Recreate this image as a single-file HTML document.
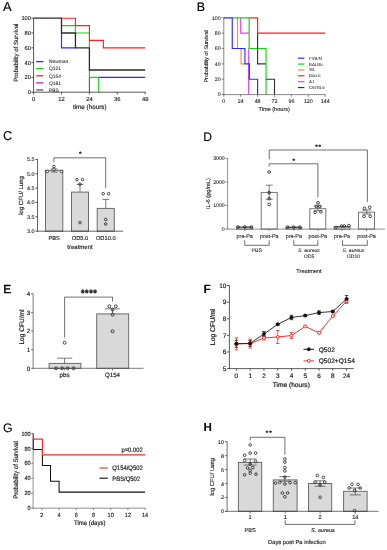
<!DOCTYPE html>
<html><head><meta charset="utf-8"><title>Figure</title>
<style>
html,body{margin:0;padding:0;background:#fff;}
svg{display:block;}
text{font-family:"Liberation Sans", Arial, sans-serif;text-rendering:geometricPrecision;}
</style></head>
<body>
<svg width="387" height="550" viewBox="0 0 387 550">
<rect x="0" y="0" width="387" height="550" fill="#fff"/>
<text x="3.00" y="11.10" font-size="12.9" text-anchor="start" fill="#000"  stroke="#000" stroke-width="0.150">A</text>
<polyline points="61.50,33.00 61.50,47.80 75.45,47.80" fill="none" stroke="#2a2aff" stroke-width="1.15" stroke-linejoin="miter" />
<polyline points="98.70,77.40 145.20,77.40" fill="none" stroke="#2a2aff" stroke-width="1.15" stroke-linejoin="miter" />
<polyline points="61.50,25.60 75.45,25.60 75.45,33.00 89.40,33.00" fill="none" stroke="#18d018" stroke-width="1.15" stroke-linejoin="miter" />
<polyline points="89.40,40.40 89.40,47.80" fill="none" stroke="#18d018" stroke-width="1.15" stroke-linejoin="miter" />
<polyline points="89.40,70.00 89.40,77.40 98.70,77.40 98.70,92.20" fill="none" stroke="#18d018" stroke-width="1.15" stroke-linejoin="miter" />
<polyline points="61.50,18.20 75.45,18.20 75.45,25.60 89.40,25.60 89.40,40.40 103.35,40.40 103.35,47.80 145.20,47.80" fill="none" stroke="#ff2020" stroke-width="1.15" stroke-linejoin="miter" />
<polyline points="89.40,77.40 89.40,92.20" fill="none" stroke="#c020c0" stroke-width="1.15" stroke-linejoin="miter" />
<polyline points="33.60,18.20 61.50,18.20 61.50,33.00 75.45,33.00 75.45,47.80 89.40,47.80 89.40,70.00 145.20,70.00" fill="none" stroke="#2b2b2b" stroke-width="1.3" stroke-linejoin="miter" />
<line x1="33.60" y1="17.75" x2="33.60" y2="92.65" stroke="#444" stroke-width="0.9" />
<line x1="31.40" y1="92.20" x2="33.60" y2="92.20" stroke="#444" stroke-width="0.9" />
<text x="30.90" y="94.25" font-size="5.7" text-anchor="end" fill="#1a1a1a"  stroke="#1a1a1a" stroke-width="0.120">0</text>
<line x1="31.40" y1="77.40" x2="33.60" y2="77.40" stroke="#444" stroke-width="0.9" />
<text x="30.90" y="79.45" font-size="5.7" text-anchor="end" fill="#1a1a1a"  stroke="#1a1a1a" stroke-width="0.120">20</text>
<line x1="31.40" y1="62.60" x2="33.60" y2="62.60" stroke="#444" stroke-width="0.9" />
<text x="30.90" y="64.65" font-size="5.7" text-anchor="end" fill="#1a1a1a"  stroke="#1a1a1a" stroke-width="0.120">40</text>
<line x1="31.40" y1="47.80" x2="33.60" y2="47.80" stroke="#444" stroke-width="0.9" />
<text x="30.90" y="49.85" font-size="5.7" text-anchor="end" fill="#1a1a1a"  stroke="#1a1a1a" stroke-width="0.120">60</text>
<line x1="31.40" y1="33.00" x2="33.60" y2="33.00" stroke="#444" stroke-width="0.9" />
<text x="30.90" y="35.05" font-size="5.7" text-anchor="end" fill="#1a1a1a"  stroke="#1a1a1a" stroke-width="0.120">80</text>
<line x1="31.40" y1="18.20" x2="33.60" y2="18.20" stroke="#444" stroke-width="0.9" />
<text x="30.90" y="20.25" font-size="5.7" text-anchor="end" fill="#1a1a1a"  stroke="#1a1a1a" stroke-width="0.120">100</text>
<line x1="33.15" y1="92.20" x2="145.65" y2="92.20" stroke="#444" stroke-width="0.9" />
<line x1="33.60" y1="92.20" x2="33.60" y2="94.40" stroke="#444" stroke-width="0.9" />
<text x="33.60" y="101.20" font-size="5.8" text-anchor="middle" fill="#1a1a1a"  stroke="#1a1a1a" stroke-width="0.128">0</text>
<line x1="61.50" y1="92.20" x2="61.50" y2="94.40" stroke="#444" stroke-width="0.9" />
<text x="61.50" y="101.20" font-size="5.8" text-anchor="middle" fill="#1a1a1a"  stroke="#1a1a1a" stroke-width="0.128">12</text>
<line x1="89.40" y1="92.20" x2="89.40" y2="94.40" stroke="#444" stroke-width="0.9" />
<text x="89.40" y="101.20" font-size="5.8" text-anchor="middle" fill="#1a1a1a"  stroke="#1a1a1a" stroke-width="0.128">24</text>
<line x1="117.30" y1="92.20" x2="117.30" y2="94.40" stroke="#444" stroke-width="0.9" />
<text x="117.30" y="101.20" font-size="5.8" text-anchor="middle" fill="#1a1a1a"  stroke="#1a1a1a" stroke-width="0.128">36</text>
<line x1="145.20" y1="92.20" x2="145.20" y2="94.40" stroke="#444" stroke-width="0.9" />
<text x="145.20" y="101.20" font-size="5.8" text-anchor="middle" fill="#1a1a1a"  stroke="#1a1a1a" stroke-width="0.128">48</text>
<text x="89.70" y="108.60" font-size="6.3" text-anchor="middle" fill="#1a1a1a"  stroke="#1a1a1a" stroke-width="0.168">time (hours)</text>
<text x="18.20" y="52.60" font-size="6.05" text-anchor="middle" fill="#1a1a1a" transform="rotate(-90 18.20 52.60)"  stroke="#1a1a1a" stroke-width="0.148">Probability of Survival</text>
<line x1="36.20" y1="61.60" x2="43.40" y2="61.60" stroke="#2a2aff" stroke-width="1.3" />
<text x="49.00" y="63.30" font-size="4.9" text-anchor="start" fill="#1a1a1a"  stroke="#1a1a1a" stroke-width="0.056">Newman</text>
<line x1="36.20" y1="68.70" x2="43.40" y2="68.70" stroke="#18d018" stroke-width="1.3" />
<text x="49.00" y="70.40" font-size="4.9" text-anchor="start" fill="#1a1a1a"  stroke="#1a1a1a" stroke-width="0.056">Q121</text>
<line x1="36.20" y1="75.80" x2="43.40" y2="75.80" stroke="#ff2020" stroke-width="1.3" />
<text x="49.00" y="77.50" font-size="4.9" text-anchor="start" fill="#1a1a1a"  stroke="#1a1a1a" stroke-width="0.056">Q154</text>
<line x1="36.20" y1="82.90" x2="43.40" y2="82.90" stroke="#c020c0" stroke-width="1.3" />
<text x="49.00" y="84.60" font-size="4.9" text-anchor="start" fill="#1a1a1a"  stroke="#1a1a1a" stroke-width="0.056">Q181</text>
<line x1="36.20" y1="90.00" x2="43.40" y2="90.00" stroke="#555" stroke-width="1.3" />
<text x="49.00" y="91.70" font-size="4.9" text-anchor="start" fill="#1a1a1a"  stroke="#1a1a1a" stroke-width="0.056">PBS</text>
<text x="196.80" y="11.30" font-size="12.4" text-anchor="start" fill="#000"  stroke="#000" stroke-width="0.200">B</text>
<polyline points="237.53,17.80 237.53,48.52" fill="none" stroke="#ff9020" stroke-width="1.15" stroke-linejoin="miter" />
<polyline points="241.05,48.52 241.05,63.88 244.93,63.88" fill="none" stroke="#ff9020" stroke-width="1.15" stroke-linejoin="miter" />
<polyline points="240.70,17.80 240.70,33.16 248.87,33.16" fill="none" stroke="#e040ff" stroke-width="1.15" stroke-linejoin="miter" />
<polyline points="248.66,48.52 248.66,94.60" fill="none" stroke="#e040ff" stroke-width="1.15" stroke-linejoin="miter" />
<polyline points="249.15,17.80 257.60,17.80 257.60,33.16 325.20,33.16" fill="none" stroke="#ff2020" stroke-width="1.15" stroke-linejoin="miter" />
<polyline points="232.25,17.80 249.15,17.80 249.15,48.52 266.05,48.52 266.05,94.60" fill="none" stroke="#18d018" stroke-width="1.15" stroke-linejoin="miter" />
<polyline points="257.60,33.16 257.60,63.88 265.63,63.88" fill="none" stroke="#333" stroke-width="1.15" stroke-linejoin="miter" />
<polyline points="266.05,79.24 274.50,79.24 274.50,94.60" fill="none" stroke="#333" stroke-width="1.15" stroke-linejoin="miter" />
<polyline points="223.80,17.80 232.25,17.80 232.25,48.52 244.93,48.52 244.93,63.88 249.36,63.88 249.36,79.24 257.60,79.24 257.60,94.60" fill="none" stroke="#2a2aff" stroke-width="1.15" stroke-linejoin="miter" />
<line x1="223.80" y1="17.45" x2="223.80" y2="94.95" stroke="#555" stroke-width="0.7" />
<line x1="221.60" y1="94.60" x2="223.80" y2="94.60" stroke="#555" stroke-width="0.7" />
<text x="220.60" y="96.47" font-size="5.2" text-anchor="end" fill="#1a1a1a"  stroke="#1a1a1a" stroke-width="0.080">0</text>
<line x1="221.60" y1="79.24" x2="223.80" y2="79.24" stroke="#555" stroke-width="0.7" />
<text x="220.60" y="81.11" font-size="5.2" text-anchor="end" fill="#1a1a1a"  stroke="#1a1a1a" stroke-width="0.080">20</text>
<line x1="221.60" y1="63.88" x2="223.80" y2="63.88" stroke="#555" stroke-width="0.7" />
<text x="220.60" y="65.75" font-size="5.2" text-anchor="end" fill="#1a1a1a"  stroke="#1a1a1a" stroke-width="0.080">40</text>
<line x1="221.60" y1="48.52" x2="223.80" y2="48.52" stroke="#555" stroke-width="0.7" />
<text x="220.60" y="50.39" font-size="5.2" text-anchor="end" fill="#1a1a1a"  stroke="#1a1a1a" stroke-width="0.080">60</text>
<line x1="221.60" y1="33.16" x2="223.80" y2="33.16" stroke="#555" stroke-width="0.7" />
<text x="220.60" y="35.03" font-size="5.2" text-anchor="end" fill="#1a1a1a"  stroke="#1a1a1a" stroke-width="0.080">80</text>
<line x1="221.60" y1="17.80" x2="223.80" y2="17.80" stroke="#555" stroke-width="0.7" />
<text x="220.60" y="19.67" font-size="5.2" text-anchor="end" fill="#1a1a1a"  stroke="#1a1a1a" stroke-width="0.080">100</text>
<line x1="223.45" y1="94.60" x2="325.55" y2="94.60" stroke="#555" stroke-width="0.7" />
<line x1="223.80" y1="94.60" x2="223.80" y2="96.80" stroke="#555" stroke-width="0.7" />
<text x="223.80" y="102.90" font-size="5.3" text-anchor="middle" fill="#1a1a1a"  stroke="#1a1a1a" stroke-width="0.088">0</text>
<line x1="240.70" y1="94.60" x2="240.70" y2="96.80" stroke="#555" stroke-width="0.7" />
<text x="240.70" y="102.90" font-size="5.3" text-anchor="middle" fill="#1a1a1a"  stroke="#1a1a1a" stroke-width="0.088">24</text>
<line x1="257.60" y1="94.60" x2="257.60" y2="96.80" stroke="#555" stroke-width="0.7" />
<text x="257.60" y="102.90" font-size="5.3" text-anchor="middle" fill="#1a1a1a"  stroke="#1a1a1a" stroke-width="0.088">48</text>
<line x1="274.50" y1="94.60" x2="274.50" y2="96.80" stroke="#555" stroke-width="0.7" />
<text x="274.50" y="102.90" font-size="5.3" text-anchor="middle" fill="#1a1a1a"  stroke="#1a1a1a" stroke-width="0.088">72</text>
<line x1="291.40" y1="94.60" x2="291.40" y2="96.80" stroke="#555" stroke-width="0.7" />
<text x="291.40" y="102.90" font-size="5.3" text-anchor="middle" fill="#1a1a1a"  stroke="#1a1a1a" stroke-width="0.088">96</text>
<line x1="308.30" y1="94.60" x2="308.30" y2="96.80" stroke="#555" stroke-width="0.7" />
<text x="308.30" y="102.90" font-size="5.3" text-anchor="middle" fill="#1a1a1a"  stroke="#1a1a1a" stroke-width="0.088">120</text>
<line x1="325.20" y1="94.60" x2="325.20" y2="96.80" stroke="#555" stroke-width="0.7" />
<text x="325.20" y="102.90" font-size="5.3" text-anchor="middle" fill="#1a1a1a"  stroke="#1a1a1a" stroke-width="0.088">144</text>
<text x="274.20" y="110.60" font-size="5.6" text-anchor="middle" fill="#1a1a1a"  stroke="#1a1a1a" stroke-width="0.112">Time (hours)</text>
<text x="208.50" y="56.40" font-size="5.45" text-anchor="middle" fill="#1a1a1a" transform="rotate(-90 208.50 56.40)"  stroke="#1a1a1a" stroke-width="0.100">Probability of Survival</text>
<line x1="298.00" y1="58.20" x2="304.40" y2="58.20" stroke="#2a2aff" stroke-width="1.2" />
<text x="309.00" y="59.70" font-size="4.35" text-anchor="start" fill="#1a1a1a"  stroke="#1a1a1a" stroke-width="0.012">FVB/N</text>
<line x1="298.00" y1="64.07" x2="304.40" y2="64.07" stroke="#18d018" stroke-width="1.2" />
<text x="309.00" y="65.57" font-size="4.35" text-anchor="start" fill="#1a1a1a"  stroke="#1a1a1a" stroke-width="0.012">BALB/c</text>
<line x1="298.00" y1="69.94" x2="304.40" y2="69.94" stroke="#ff9020" stroke-width="1.2" />
<text x="309.00" y="71.44" font-size="4.35" text-anchor="start" fill="#1a1a1a"  stroke="#1a1a1a" stroke-width="0.012">S/L</text>
<line x1="298.00" y1="75.81" x2="304.40" y2="75.81" stroke="#ff2020" stroke-width="1.2" />
<text x="309.00" y="77.31" font-size="4.35" text-anchor="start" fill="#1a1a1a"  stroke="#1a1a1a" stroke-width="0.012">Biozzi</text>
<line x1="298.00" y1="81.68" x2="304.40" y2="81.68" stroke="#e040ff" stroke-width="1.2" />
<text x="309.00" y="83.18" font-size="4.35" text-anchor="start" fill="#1a1a1a"  stroke="#1a1a1a" stroke-width="0.012">AJ</text>
<line x1="298.00" y1="87.55" x2="304.40" y2="87.55" stroke="#333" stroke-width="1.2" />
<text x="309.00" y="89.05" font-size="4.35" text-anchor="start" fill="#1a1a1a"  stroke="#1a1a1a" stroke-width="0.012">C57BL6</text>
<text x="3.00" y="140.00" font-size="12.9" text-anchor="start" fill="#000"  stroke="#000" stroke-width="0.100">C</text>
<rect x="45.50" y="170.31" width="17.30" height="60.89" fill="#d9d9d9" stroke="#666" stroke-width="0.95"/>
<rect x="71.50" y="192.10" width="17.00" height="39.10" fill="#d9d9d9" stroke="#666" stroke-width="0.95"/>
<rect x="97.20" y="208.40" width="17.10" height="22.80" fill="#d9d9d9" stroke="#666" stroke-width="0.95"/>
<line x1="54.15" y1="169.00" x2="54.15" y2="172.00" stroke="#444" stroke-width="0.7" />
<line x1="50.65" y1="169.00" x2="57.65" y2="169.00" stroke="#444" stroke-width="0.7" />
<line x1="50.65" y1="172.00" x2="57.65" y2="172.00" stroke="#444" stroke-width="0.7" />
<line x1="80.00" y1="184.40" x2="80.00" y2="192.10" stroke="#444" stroke-width="0.7" />
<line x1="76.50" y1="184.40" x2="83.50" y2="184.40" stroke="#444" stroke-width="0.7" />
<line x1="105.75" y1="199.40" x2="105.75" y2="208.40" stroke="#444" stroke-width="0.7" />
<line x1="102.25" y1="199.40" x2="109.25" y2="199.40" stroke="#444" stroke-width="0.7" />
<circle cx="47.20" cy="171.50" r="1.3" fill="#fff" stroke="#1a1a1a" stroke-width="0.8"/>
<circle cx="53.90" cy="166.50" r="1.3" fill="#fff" stroke="#1a1a1a" stroke-width="0.8"/>
<circle cx="53.90" cy="169.40" r="1.3" fill="#fff" stroke="#1a1a1a" stroke-width="0.8"/>
<circle cx="61.50" cy="171.50" r="1.3" fill="#fff" stroke="#1a1a1a" stroke-width="0.8"/>
<circle cx="77.00" cy="179.60" r="1.3" fill="none" stroke="#1a1a1a" stroke-width="0.8"/>
<circle cx="82.60" cy="179.60" r="1.3" fill="none" stroke="#1a1a1a" stroke-width="0.8"/>
<circle cx="80.00" cy="184.20" r="1.3" fill="none" stroke="#1a1a1a" stroke-width="0.8"/>
<circle cx="80.00" cy="222.60" r="1.3" fill="none" stroke="#1a1a1a" stroke-width="0.8"/>
<circle cx="103.20" cy="193.70" r="1.3" fill="none" stroke="#1a1a1a" stroke-width="0.8"/>
<circle cx="108.60" cy="193.70" r="1.3" fill="none" stroke="#1a1a1a" stroke-width="0.8"/>
<circle cx="105.70" cy="219.50" r="1.3" fill="none" stroke="#1a1a1a" stroke-width="0.8"/>
<circle cx="105.70" cy="224.00" r="1.3" fill="none" stroke="#1a1a1a" stroke-width="0.8"/>
<line x1="37.50" y1="159.02" x2="37.50" y2="231.57" stroke="#333" stroke-width="0.75" />
<line x1="35.30" y1="231.20" x2="37.50" y2="231.20" stroke="#333" stroke-width="0.75" />
<text x="34.60" y="233.14" font-size="5.4" text-anchor="end" fill="#1a1a1a"  stroke="#1a1a1a" stroke-width="0.096">3.0</text>
<line x1="35.30" y1="216.84" x2="37.50" y2="216.84" stroke="#333" stroke-width="0.75" />
<text x="34.60" y="218.78" font-size="5.4" text-anchor="end" fill="#1a1a1a"  stroke="#1a1a1a" stroke-width="0.096">3.5</text>
<line x1="35.30" y1="202.48" x2="37.50" y2="202.48" stroke="#333" stroke-width="0.75" />
<text x="34.60" y="204.42" font-size="5.4" text-anchor="end" fill="#1a1a1a"  stroke="#1a1a1a" stroke-width="0.096">4.0</text>
<line x1="35.30" y1="188.12" x2="37.50" y2="188.12" stroke="#333" stroke-width="0.75" />
<text x="34.60" y="190.06" font-size="5.4" text-anchor="end" fill="#1a1a1a"  stroke="#1a1a1a" stroke-width="0.096">4.5</text>
<line x1="35.30" y1="173.76" x2="37.50" y2="173.76" stroke="#333" stroke-width="0.75" />
<text x="34.60" y="175.70" font-size="5.4" text-anchor="end" fill="#1a1a1a"  stroke="#1a1a1a" stroke-width="0.096">5.0</text>
<line x1="35.30" y1="159.40" x2="37.50" y2="159.40" stroke="#333" stroke-width="0.75" />
<text x="34.60" y="161.34" font-size="5.4" text-anchor="end" fill="#1a1a1a"  stroke="#1a1a1a" stroke-width="0.096">5.5</text>
<line x1="37.12" y1="231.20" x2="123.17" y2="231.20" stroke="#333" stroke-width="0.75" />
<text x="54.15" y="240.10" font-size="5.7" text-anchor="middle" fill="#1a1a1a"  stroke="#1a1a1a" stroke-width="0.120">PBS</text>
<text x="80.00" y="240.10" font-size="5.7" text-anchor="middle" fill="#1a1a1a"  stroke="#1a1a1a" stroke-width="0.120">OD5.0</text>
<text x="105.75" y="240.10" font-size="5.7" text-anchor="middle" fill="#1a1a1a"  stroke="#1a1a1a" stroke-width="0.120">OD10.0</text>
<text x="80.00" y="248.90" font-size="6.0" text-anchor="middle" fill="#1a1a1a"  stroke="#1a1a1a" stroke-width="0.144">treatment</text>
<text x="23.30" y="195.50" font-size="6.0" text-anchor="middle" fill="#1a1a1a" transform="rotate(-90 23.30 195.50)"  stroke="#1a1a1a" stroke-width="0.144">log CFU/ Lung</text>
<polyline points="53.90,162.20 53.90,157.80 105.70,157.80 105.70,188.30" fill="none" stroke="#333" stroke-width="0.7" stroke-linejoin="miter" />
<text x="80.20" y="155.90" font-size="6.5" text-anchor="middle" fill="#1a1a1a" font-weight="bold"  stroke="#1a1a1a" stroke-width="0.184">*</text>
<text x="203.20" y="140.50" font-size="12.2" text-anchor="start" fill="#000"  stroke="#000" stroke-width="0.100">D</text>
<rect x="236.70" y="227.30" width="16.00" height="1.80" fill="#fff" stroke="#707070" stroke-width="0.95"/>
<rect x="261.20" y="192.40" width="16.00" height="36.70" fill="#fff" stroke="#707070" stroke-width="0.95"/>
<rect x="285.80" y="227.50" width="16.00" height="1.60" fill="#fff" stroke="#707070" stroke-width="0.95"/>
<rect x="309.80" y="208.70" width="16.00" height="20.40" fill="#fff" stroke="#707070" stroke-width="0.95"/>
<rect x="334.00" y="226.70" width="16.00" height="2.40" fill="#fff" stroke="#707070" stroke-width="0.95"/>
<rect x="358.50" y="212.20" width="16.00" height="16.90" fill="#fff" stroke="#707070" stroke-width="0.95"/>
<line x1="269.20" y1="185.20" x2="269.20" y2="199.20" stroke="#444" stroke-width="0.7" />
<line x1="265.70" y1="185.20" x2="272.70" y2="185.20" stroke="#444" stroke-width="0.7" />
<line x1="265.70" y1="199.20" x2="272.70" y2="199.20" stroke="#444" stroke-width="0.7" />
<line x1="317.80" y1="206.00" x2="317.80" y2="210.80" stroke="#444" stroke-width="0.7" />
<line x1="313.80" y1="206.00" x2="321.80" y2="206.00" stroke="#444" stroke-width="0.7" />
<line x1="313.80" y1="210.80" x2="321.80" y2="210.80" stroke="#444" stroke-width="0.7" />
<line x1="366.80" y1="210.00" x2="366.80" y2="214.00" stroke="#444" stroke-width="0.7" />
<line x1="362.30" y1="210.00" x2="371.30" y2="210.00" stroke="#444" stroke-width="0.7" />
<line x1="362.30" y1="214.00" x2="371.30" y2="214.00" stroke="#444" stroke-width="0.7" />
<line x1="237.70" y1="227.00" x2="251.70" y2="227.00" stroke="#222" stroke-width="0.7" />
<line x1="286.80" y1="227.00" x2="300.80" y2="227.00" stroke="#222" stroke-width="0.7" />
<line x1="335.00" y1="227.00" x2="349.00" y2="227.00" stroke="#222" stroke-width="0.7" />
<circle cx="238.00" cy="227.00" r="1.35" fill="none" stroke="#1a1a1a" stroke-width="0.8"/>
<circle cx="244.90" cy="227.00" r="1.35" fill="none" stroke="#1a1a1a" stroke-width="0.8"/>
<circle cx="251.40" cy="227.00" r="1.35" fill="none" stroke="#1a1a1a" stroke-width="0.8"/>
<circle cx="269.20" cy="172.00" r="1.35" fill="none" stroke="#1a1a1a" stroke-width="0.8"/>
<circle cx="269.20" cy="192.70" r="1.35" fill="none" stroke="#1a1a1a" stroke-width="0.8"/>
<circle cx="269.20" cy="198.70" r="1.35" fill="none" stroke="#1a1a1a" stroke-width="0.8"/>
<circle cx="269.20" cy="204.40" r="1.35" fill="none" stroke="#1a1a1a" stroke-width="0.8"/>
<circle cx="287.50" cy="227.20" r="1.35" fill="none" stroke="#1a1a1a" stroke-width="0.8"/>
<circle cx="293.80" cy="227.20" r="1.35" fill="none" stroke="#1a1a1a" stroke-width="0.8"/>
<circle cx="299.90" cy="227.20" r="1.35" fill="none" stroke="#1a1a1a" stroke-width="0.8"/>
<circle cx="318.00" cy="202.80" r="1.35" fill="none" stroke="#1a1a1a" stroke-width="0.8"/>
<circle cx="316.20" cy="206.40" r="1.35" fill="none" stroke="#1a1a1a" stroke-width="0.8"/>
<circle cx="319.80" cy="206.40" r="1.35" fill="none" stroke="#1a1a1a" stroke-width="0.8"/>
<circle cx="315.10" cy="212.30" r="1.35" fill="none" stroke="#1a1a1a" stroke-width="0.8"/>
<circle cx="320.90" cy="211.80" r="1.35" fill="none" stroke="#1a1a1a" stroke-width="0.8"/>
<circle cx="336.00" cy="227.60" r="1.35" fill="none" stroke="#1a1a1a" stroke-width="0.8"/>
<circle cx="341.50" cy="226.00" r="1.35" fill="none" stroke="#1a1a1a" stroke-width="0.8"/>
<circle cx="344.30" cy="226.00" r="1.35" fill="none" stroke="#1a1a1a" stroke-width="0.8"/>
<circle cx="349.00" cy="225.60" r="1.35" fill="none" stroke="#1a1a1a" stroke-width="0.8"/>
<circle cx="364.50" cy="208.40" r="1.35" fill="none" stroke="#1a1a1a" stroke-width="0.8"/>
<circle cx="369.70" cy="207.30" r="1.35" fill="none" stroke="#1a1a1a" stroke-width="0.8"/>
<circle cx="364.10" cy="216.30" r="1.35" fill="none" stroke="#1a1a1a" stroke-width="0.8"/>
<circle cx="370.10" cy="216.30" r="1.35" fill="none" stroke="#1a1a1a" stroke-width="0.8"/>
<line x1="227.60" y1="157.97" x2="227.60" y2="229.42" stroke="#555" stroke-width="0.65" />
<line x1="225.40" y1="229.10" x2="227.60" y2="229.10" stroke="#555" stroke-width="0.65" />
<text x="224.70" y="230.97" font-size="5.2" text-anchor="end" fill="#1a1a1a"  stroke="#1a1a1a" stroke-width="0.080">0</text>
<line x1="225.40" y1="205.50" x2="227.60" y2="205.50" stroke="#555" stroke-width="0.65" />
<text x="224.70" y="207.37" font-size="5.2" text-anchor="end" fill="#1a1a1a"  stroke="#1a1a1a" stroke-width="0.080">1000</text>
<line x1="225.40" y1="181.90" x2="227.60" y2="181.90" stroke="#555" stroke-width="0.65" />
<text x="224.70" y="183.77" font-size="5.2" text-anchor="end" fill="#1a1a1a"  stroke="#1a1a1a" stroke-width="0.080">2000</text>
<line x1="225.40" y1="158.30" x2="227.60" y2="158.30" stroke="#555" stroke-width="0.65" />
<text x="224.70" y="160.17" font-size="5.2" text-anchor="end" fill="#1a1a1a"  stroke="#1a1a1a" stroke-width="0.080">3000</text>
<line x1="227.30" y1="229.10" x2="385.00" y2="229.10" stroke="#555" stroke-width="0.65" />
<line x1="244.70" y1="229.10" x2="244.70" y2="231.00" stroke="#555" stroke-width="0.65" />
<line x1="269.20" y1="229.10" x2="269.20" y2="231.00" stroke="#555" stroke-width="0.65" />
<line x1="293.80" y1="229.10" x2="293.80" y2="231.00" stroke="#555" stroke-width="0.65" />
<line x1="317.80" y1="229.10" x2="317.80" y2="231.00" stroke="#555" stroke-width="0.65" />
<line x1="342.00" y1="229.10" x2="342.00" y2="231.00" stroke="#555" stroke-width="0.65" />
<line x1="366.50" y1="229.10" x2="366.50" y2="231.00" stroke="#555" stroke-width="0.65" />
<text x="244.70" y="237.80" font-size="5.4" text-anchor="middle" fill="#1a1a1a"  stroke="#1a1a1a" stroke-width="0.096">pre-Pa</text>
<text x="269.20" y="237.80" font-size="5.4" text-anchor="middle" fill="#1a1a1a"  stroke="#1a1a1a" stroke-width="0.096">post-Pa</text>
<text x="293.80" y="237.80" font-size="5.4" text-anchor="middle" fill="#1a1a1a"  stroke="#1a1a1a" stroke-width="0.096">pre-Pa</text>
<text x="317.80" y="237.80" font-size="5.4" text-anchor="middle" fill="#1a1a1a"  stroke="#1a1a1a" stroke-width="0.096">post-Pa</text>
<text x="342.00" y="237.80" font-size="5.4" text-anchor="middle" fill="#1a1a1a"  stroke="#1a1a1a" stroke-width="0.096">pre-Pa</text>
<text x="366.50" y="237.80" font-size="5.4" text-anchor="middle" fill="#1a1a1a"  stroke="#1a1a1a" stroke-width="0.096">post-Pa</text>
<polyline points="244.70,240.20 244.70,245.30 269.20,245.30 269.20,240.20" fill="none" stroke="#333" stroke-width="0.7" stroke-linejoin="miter" />
<polyline points="293.80,240.20 293.80,245.30 317.80,245.30 317.80,240.20" fill="none" stroke="#333" stroke-width="0.7" stroke-linejoin="miter" />
<polyline points="342.50,240.20 342.50,245.30 367.30,245.30 367.30,240.20" fill="none" stroke="#333" stroke-width="0.7" stroke-linejoin="miter" />
<text x="256.70" y="251.50" font-size="5.2" text-anchor="middle" fill="#1a1a1a"  stroke="#1a1a1a" stroke-width="0.080">PBS</text>
<text x="309.00" y="251.70" font-size="5.1" text-anchor="middle" fill="#1a1a1a" font-style="italic"  stroke="#1a1a1a" stroke-width="0.072">S. aureus</text>
<text x="309.00" y="257.70" font-size="5.1" text-anchor="middle" fill="#1a1a1a"  stroke="#1a1a1a" stroke-width="0.072">OD5</text>
<text x="353.50" y="251.70" font-size="5.1" text-anchor="middle" fill="#1a1a1a" font-style="italic"  stroke="#1a1a1a" stroke-width="0.072">S. aureus</text>
<text x="353.50" y="257.70" font-size="5.1" text-anchor="middle" fill="#1a1a1a"  stroke="#1a1a1a" stroke-width="0.072">OD10</text>
<text x="309.00" y="272.60" font-size="5.6" text-anchor="middle" fill="#1a1a1a"  stroke="#1a1a1a" stroke-width="0.112">Treatment</text>
<text x="210.20" y="193.60" font-size="5.7" text-anchor="middle" fill="#1a1a1a" transform="rotate(-90 210.20 193.60)"  stroke="#1a1a1a" stroke-width="0.120">IL-6 (pg/mL)</text>
<polyline points="269.20,159.40 269.20,150.00 367.40,150.00 367.40,202.00" fill="none" stroke="#333" stroke-width="0.7" stroke-linejoin="miter" />
<polyline points="269.20,166.50 269.20,163.80 317.90,163.80 317.90,197.40" fill="none" stroke="#333" stroke-width="0.7" stroke-linejoin="miter" />
<text x="318.60" y="148.60" font-size="6.5" text-anchor="middle" fill="#1a1a1a" font-weight="bold" letter-spacing="0.8" stroke="#1a1a1a" stroke-width="0.184">**</text>
<text x="293.80" y="162.90" font-size="6.5" text-anchor="middle" fill="#1a1a1a" font-weight="bold"  stroke="#1a1a1a" stroke-width="0.184">*</text>
<text x="3.30" y="292.80" font-size="11.6" text-anchor="start" fill="#000"  stroke="#000" stroke-width="0.450">E</text>
<rect x="49.10" y="363.40" width="31.80" height="4.90" fill="#d9d9d9" stroke="#666" stroke-width="0.95"/>
<rect x="96.70" y="313.90" width="32.00" height="54.40" fill="#d9d9d9" stroke="#666" stroke-width="0.95"/>
<line x1="64.60" y1="358.20" x2="64.60" y2="363.40" stroke="#444" stroke-width="0.7" />
<line x1="57.10" y1="358.20" x2="72.10" y2="358.20" stroke="#444" stroke-width="0.7" />
<line x1="112.50" y1="308.80" x2="112.50" y2="313.90" stroke="#444" stroke-width="0.7" />
<line x1="105.00" y1="308.80" x2="120.00" y2="308.80" stroke="#444" stroke-width="0.7" />
<circle cx="56.10" cy="368.30" r="1.5" fill="none" stroke="#1a1a1a" stroke-width="0.8"/>
<circle cx="62.00" cy="368.30" r="1.5" fill="none" stroke="#1a1a1a" stroke-width="0.8"/>
<circle cx="67.70" cy="368.30" r="1.5" fill="none" stroke="#1a1a1a" stroke-width="0.8"/>
<circle cx="73.60" cy="368.30" r="1.5" fill="none" stroke="#1a1a1a" stroke-width="0.8"/>
<circle cx="64.60" cy="342.70" r="1.5" fill="none" stroke="#1a1a1a" stroke-width="0.8"/>
<circle cx="109.40" cy="306.30" r="1.5" fill="none" stroke="#1a1a1a" stroke-width="0.8"/>
<circle cx="115.80" cy="306.30" r="1.5" fill="none" stroke="#1a1a1a" stroke-width="0.8"/>
<circle cx="112.60" cy="309.60" r="1.5" fill="none" stroke="#1a1a1a" stroke-width="0.8"/>
<circle cx="112.60" cy="314.70" r="1.5" fill="none" stroke="#1a1a1a" stroke-width="0.8"/>
<circle cx="112.60" cy="331.30" r="1.5" fill="none" stroke="#1a1a1a" stroke-width="0.8"/>
<line x1="33.10" y1="293.47" x2="33.10" y2="368.65" stroke="#444" stroke-width="0.7" />
<line x1="30.90" y1="368.30" x2="33.10" y2="368.30" stroke="#444" stroke-width="0.7" />
<text x="30.20" y="370.53" font-size="6.2" text-anchor="end" fill="#1a1a1a"  stroke="#1a1a1a" stroke-width="0.160">0</text>
<line x1="30.90" y1="349.68" x2="33.10" y2="349.68" stroke="#444" stroke-width="0.7" />
<text x="30.20" y="351.91" font-size="6.2" text-anchor="end" fill="#1a1a1a"  stroke="#1a1a1a" stroke-width="0.160">1</text>
<line x1="30.90" y1="331.06" x2="33.10" y2="331.06" stroke="#444" stroke-width="0.7" />
<text x="30.20" y="333.29" font-size="6.2" text-anchor="end" fill="#1a1a1a"  stroke="#1a1a1a" stroke-width="0.160">2</text>
<line x1="30.90" y1="312.44" x2="33.10" y2="312.44" stroke="#444" stroke-width="0.7" />
<text x="30.20" y="314.67" font-size="6.2" text-anchor="end" fill="#1a1a1a"  stroke="#1a1a1a" stroke-width="0.160">3</text>
<line x1="30.90" y1="293.82" x2="33.10" y2="293.82" stroke="#444" stroke-width="0.7" />
<text x="30.20" y="296.05" font-size="6.2" text-anchor="end" fill="#1a1a1a"  stroke="#1a1a1a" stroke-width="0.160">4</text>
<line x1="32.75" y1="368.30" x2="143.55" y2="368.30" stroke="#444" stroke-width="0.7" />
<line x1="64.60" y1="368.30" x2="64.60" y2="370.50" stroke="#444" stroke-width="0.7" />
<text x="64.60" y="376.70" font-size="6.2" text-anchor="middle" fill="#1a1a1a"  stroke="#1a1a1a" stroke-width="0.160">pbs</text>
<line x1="112.50" y1="368.30" x2="112.50" y2="370.50" stroke="#444" stroke-width="0.7" />
<text x="112.50" y="376.70" font-size="6.2" text-anchor="middle" fill="#1a1a1a"  stroke="#1a1a1a" stroke-width="0.160">Q154</text>
<text x="24.30" y="327.00" font-size="6.6" text-anchor="middle" fill="#1a1a1a" transform="rotate(-90 24.30 327.00)"  stroke="#1a1a1a" stroke-width="0.192">Log CFU/ml</text>
<polyline points="64.60,337.60 64.60,297.10 112.50,297.10 112.50,301.50" fill="none" stroke="#333" stroke-width="0.7" stroke-linejoin="miter" />
<text x="89.20" y="296.40" font-size="9" text-anchor="middle" fill="#1a1a1a" font-weight="bold" letter-spacing="0.6" stroke="#1a1a1a" stroke-width="0.384">****</text>
<text x="203.40" y="293.00" font-size="12.0" text-anchor="start" fill="#000" font-weight="bold"  stroke="#000" stroke-width="0.000">F</text>
<line x1="236.40" y1="337.80" x2="236.40" y2="349.80" stroke="#ff2a2a" stroke-width="0.8" />
<line x1="234.60" y1="337.80" x2="238.20" y2="337.80" stroke="#ff2a2a" stroke-width="0.8" />
<line x1="234.60" y1="349.80" x2="238.20" y2="349.80" stroke="#ff2a2a" stroke-width="0.8" />
<line x1="250.17" y1="339.10" x2="250.17" y2="348.10" stroke="#ff2a2a" stroke-width="0.8" />
<line x1="248.37" y1="339.10" x2="251.97" y2="339.10" stroke="#ff2a2a" stroke-width="0.8" />
<line x1="248.37" y1="348.10" x2="251.97" y2="348.10" stroke="#ff2a2a" stroke-width="0.8" />
<line x1="263.94" y1="336.00" x2="263.94" y2="340.00" stroke="#ff2a2a" stroke-width="0.8" />
<line x1="262.14" y1="336.00" x2="265.74" y2="336.00" stroke="#ff2a2a" stroke-width="0.8" />
<line x1="262.14" y1="340.00" x2="265.74" y2="340.00" stroke="#ff2a2a" stroke-width="0.8" />
<line x1="277.71" y1="330.50" x2="277.71" y2="343.50" stroke="#ff2a2a" stroke-width="0.8" />
<line x1="275.91" y1="330.50" x2="279.51" y2="330.50" stroke="#ff2a2a" stroke-width="0.8" />
<line x1="275.91" y1="343.50" x2="279.51" y2="343.50" stroke="#ff2a2a" stroke-width="0.8" />
<line x1="291.48" y1="332.50" x2="291.48" y2="338.50" stroke="#ff2a2a" stroke-width="0.8" />
<line x1="289.68" y1="332.50" x2="293.28" y2="332.50" stroke="#ff2a2a" stroke-width="0.8" />
<line x1="289.68" y1="338.50" x2="293.28" y2="338.50" stroke="#ff2a2a" stroke-width="0.8" />
<line x1="305.25" y1="325.40" x2="305.25" y2="327.40" stroke="#ff2a2a" stroke-width="0.8" />
<line x1="303.45" y1="325.40" x2="307.05" y2="325.40" stroke="#ff2a2a" stroke-width="0.8" />
<line x1="303.45" y1="327.40" x2="307.05" y2="327.40" stroke="#ff2a2a" stroke-width="0.8" />
<line x1="319.02" y1="332.00" x2="319.02" y2="333.60" stroke="#ff2a2a" stroke-width="0.8" />
<line x1="317.22" y1="332.00" x2="320.82" y2="332.00" stroke="#ff2a2a" stroke-width="0.8" />
<line x1="317.22" y1="333.60" x2="320.82" y2="333.60" stroke="#ff2a2a" stroke-width="0.8" />
<line x1="332.79" y1="315.20" x2="332.79" y2="317.20" stroke="#ff2a2a" stroke-width="0.8" />
<line x1="330.99" y1="315.20" x2="334.59" y2="315.20" stroke="#ff2a2a" stroke-width="0.8" />
<line x1="330.99" y1="317.20" x2="334.59" y2="317.20" stroke="#ff2a2a" stroke-width="0.8" />
<line x1="346.56" y1="298.50" x2="346.56" y2="303.50" stroke="#ff2a2a" stroke-width="0.8" />
<line x1="344.76" y1="298.50" x2="348.36" y2="298.50" stroke="#ff2a2a" stroke-width="0.8" />
<line x1="344.76" y1="303.50" x2="348.36" y2="303.50" stroke="#ff2a2a" stroke-width="0.8" />
<line x1="236.40" y1="340.30" x2="236.40" y2="347.30" stroke="#111" stroke-width="0.7" />
<line x1="234.60" y1="340.30" x2="238.20" y2="340.30" stroke="#111" stroke-width="0.7" />
<line x1="234.60" y1="347.30" x2="238.20" y2="347.30" stroke="#111" stroke-width="0.7" />
<line x1="250.17" y1="340.30" x2="250.17" y2="346.30" stroke="#111" stroke-width="0.7" />
<line x1="248.37" y1="340.30" x2="251.97" y2="340.30" stroke="#111" stroke-width="0.7" />
<line x1="248.37" y1="346.30" x2="251.97" y2="346.30" stroke="#111" stroke-width="0.7" />
<line x1="263.94" y1="331.50" x2="263.94" y2="336.50" stroke="#111" stroke-width="0.7" />
<line x1="262.14" y1="331.50" x2="265.74" y2="331.50" stroke="#111" stroke-width="0.7" />
<line x1="262.14" y1="336.50" x2="265.74" y2="336.50" stroke="#111" stroke-width="0.7" />
<line x1="277.71" y1="323.50" x2="277.71" y2="325.10" stroke="#111" stroke-width="0.7" />
<line x1="275.91" y1="323.50" x2="279.51" y2="323.50" stroke="#111" stroke-width="0.7" />
<line x1="275.91" y1="325.10" x2="279.51" y2="325.10" stroke="#111" stroke-width="0.7" />
<line x1="291.48" y1="315.30" x2="291.48" y2="319.70" stroke="#111" stroke-width="0.7" />
<line x1="289.68" y1="315.30" x2="293.28" y2="315.30" stroke="#111" stroke-width="0.7" />
<line x1="289.68" y1="319.70" x2="293.28" y2="319.70" stroke="#111" stroke-width="0.7" />
<line x1="305.25" y1="314.80" x2="305.25" y2="316.40" stroke="#111" stroke-width="0.7" />
<line x1="303.45" y1="314.80" x2="307.05" y2="314.80" stroke="#111" stroke-width="0.7" />
<line x1="303.45" y1="316.40" x2="307.05" y2="316.40" stroke="#111" stroke-width="0.7" />
<line x1="319.02" y1="310.80" x2="319.02" y2="314.40" stroke="#111" stroke-width="0.7" />
<line x1="317.22" y1="310.80" x2="320.82" y2="310.80" stroke="#111" stroke-width="0.7" />
<line x1="317.22" y1="314.40" x2="320.82" y2="314.40" stroke="#111" stroke-width="0.7" />
<line x1="332.79" y1="310.70" x2="332.79" y2="312.30" stroke="#111" stroke-width="0.7" />
<line x1="330.99" y1="310.70" x2="334.59" y2="310.70" stroke="#111" stroke-width="0.7" />
<line x1="330.99" y1="312.30" x2="334.59" y2="312.30" stroke="#111" stroke-width="0.7" />
<line x1="346.56" y1="295.50" x2="346.56" y2="302.50" stroke="#111" stroke-width="0.7" />
<line x1="344.76" y1="295.50" x2="348.36" y2="295.50" stroke="#111" stroke-width="0.7" />
<line x1="344.76" y1="302.50" x2="348.36" y2="302.50" stroke="#111" stroke-width="0.7" />
<polyline points="236.40,343.80 250.17,343.60 263.94,338.00 277.71,337.00 291.48,335.50 305.25,326.40 319.02,332.80 332.79,316.20 346.56,301.00" fill="none" stroke="#ff2a2a" stroke-width="1.0" stroke-linejoin="miter" />
<polyline points="236.40,343.80 250.17,343.30 263.94,334.00 277.71,324.30 291.48,317.50 305.25,315.60 319.02,312.60 332.79,311.50 346.56,299.00" fill="none" stroke="#111" stroke-width="0.85" stroke-linejoin="miter" />
<circle cx="236.40" cy="343.80" r="1.5" fill="#fff" stroke="#ff2a2a" stroke-width="0.95"/>
<circle cx="250.17" cy="343.60" r="1.5" fill="#fff" stroke="#ff2a2a" stroke-width="0.95"/>
<circle cx="263.94" cy="338.00" r="1.5" fill="#fff" stroke="#ff2a2a" stroke-width="0.95"/>
<circle cx="277.71" cy="337.00" r="1.5" fill="#fff" stroke="#ff2a2a" stroke-width="0.95"/>
<circle cx="291.48" cy="335.50" r="1.5" fill="#fff" stroke="#ff2a2a" stroke-width="0.95"/>
<circle cx="305.25" cy="326.40" r="1.5" fill="#fff" stroke="#ff2a2a" stroke-width="0.95"/>
<circle cx="319.02" cy="332.80" r="1.5" fill="#fff" stroke="#ff2a2a" stroke-width="0.95"/>
<circle cx="332.79" cy="316.20" r="1.5" fill="#fff" stroke="#ff2a2a" stroke-width="0.95"/>
<circle cx="346.56" cy="301.00" r="1.5" fill="#fff" stroke="#ff2a2a" stroke-width="0.95"/>
<circle cx="236.40" cy="343.80" r="1.7" fill="#111" stroke="#111" stroke-width="0.5"/>
<circle cx="250.17" cy="343.30" r="1.7" fill="#111" stroke="#111" stroke-width="0.5"/>
<circle cx="263.94" cy="334.00" r="1.7" fill="#111" stroke="#111" stroke-width="0.5"/>
<circle cx="277.71" cy="324.30" r="1.7" fill="#111" stroke="#111" stroke-width="0.5"/>
<circle cx="291.48" cy="317.50" r="1.7" fill="#111" stroke="#111" stroke-width="0.5"/>
<circle cx="305.25" cy="315.60" r="1.7" fill="#111" stroke="#111" stroke-width="0.5"/>
<circle cx="319.02" cy="312.60" r="1.7" fill="#111" stroke="#111" stroke-width="0.5"/>
<circle cx="332.79" cy="311.50" r="1.7" fill="#111" stroke="#111" stroke-width="0.5"/>
<circle cx="346.56" cy="299.00" r="1.7" fill="#111" stroke="#111" stroke-width="0.5"/>
<circle cx="236.40" cy="343.80" r="1.6" fill="#200" stroke="#901010" stroke-width="0.6"/>
<circle cx="250.17" cy="343.60" r="1.6" fill="#200" stroke="#901010" stroke-width="0.6"/>
<line x1="229.40" y1="285.10" x2="229.40" y2="369.00" stroke="#333" stroke-width="0.8" />
<line x1="226.90" y1="368.60" x2="229.40" y2="368.60" stroke="#333" stroke-width="0.8" />
<text x="226.40" y="370.94" font-size="6.5" text-anchor="end" fill="#1a1a1a"  stroke="#1a1a1a" stroke-width="0.184">5</text>
<line x1="226.90" y1="351.98" x2="229.40" y2="351.98" stroke="#333" stroke-width="0.8" />
<text x="226.40" y="354.32" font-size="6.5" text-anchor="end" fill="#1a1a1a"  stroke="#1a1a1a" stroke-width="0.184">6</text>
<line x1="226.90" y1="335.36" x2="229.40" y2="335.36" stroke="#333" stroke-width="0.8" />
<text x="226.40" y="337.70" font-size="6.5" text-anchor="end" fill="#1a1a1a"  stroke="#1a1a1a" stroke-width="0.184">7</text>
<line x1="226.90" y1="318.74" x2="229.40" y2="318.74" stroke="#333" stroke-width="0.8" />
<text x="226.40" y="321.08" font-size="6.5" text-anchor="end" fill="#1a1a1a"  stroke="#1a1a1a" stroke-width="0.184">8</text>
<line x1="226.90" y1="302.12" x2="229.40" y2="302.12" stroke="#333" stroke-width="0.8" />
<text x="226.40" y="304.46" font-size="6.5" text-anchor="end" fill="#1a1a1a"  stroke="#1a1a1a" stroke-width="0.184">9</text>
<line x1="226.90" y1="285.50" x2="229.40" y2="285.50" stroke="#333" stroke-width="0.8" />
<text x="226.40" y="287.84" font-size="6.5" text-anchor="end" fill="#1a1a1a"  stroke="#1a1a1a" stroke-width="0.184">10</text>
<line x1="229.00" y1="368.60" x2="353.70" y2="368.60" stroke="#333" stroke-width="0.8" />
<line x1="236.40" y1="368.60" x2="236.40" y2="370.80" stroke="#333" stroke-width="0.8" />
<text x="236.40" y="377.60" font-size="6.4" text-anchor="middle" fill="#1a1a1a"  stroke="#1a1a1a" stroke-width="0.176">0</text>
<line x1="250.17" y1="368.60" x2="250.17" y2="370.80" stroke="#333" stroke-width="0.8" />
<text x="250.17" y="377.60" font-size="6.4" text-anchor="middle" fill="#1a1a1a"  stroke="#1a1a1a" stroke-width="0.176">1</text>
<line x1="263.94" y1="368.60" x2="263.94" y2="370.80" stroke="#333" stroke-width="0.8" />
<text x="263.94" y="377.60" font-size="6.4" text-anchor="middle" fill="#1a1a1a"  stroke="#1a1a1a" stroke-width="0.176">2</text>
<line x1="277.71" y1="368.60" x2="277.71" y2="370.80" stroke="#333" stroke-width="0.8" />
<text x="277.71" y="377.60" font-size="6.4" text-anchor="middle" fill="#1a1a1a"  stroke="#1a1a1a" stroke-width="0.176">3</text>
<line x1="291.48" y1="368.60" x2="291.48" y2="370.80" stroke="#333" stroke-width="0.8" />
<text x="291.48" y="377.60" font-size="6.4" text-anchor="middle" fill="#1a1a1a"  stroke="#1a1a1a" stroke-width="0.176">4</text>
<line x1="305.25" y1="368.60" x2="305.25" y2="370.80" stroke="#333" stroke-width="0.8" />
<text x="305.25" y="377.60" font-size="6.4" text-anchor="middle" fill="#1a1a1a"  stroke="#1a1a1a" stroke-width="0.176">5</text>
<line x1="319.02" y1="368.60" x2="319.02" y2="370.80" stroke="#333" stroke-width="0.8" />
<text x="319.02" y="377.60" font-size="6.4" text-anchor="middle" fill="#1a1a1a"  stroke="#1a1a1a" stroke-width="0.176">6</text>
<line x1="332.79" y1="368.60" x2="332.79" y2="370.80" stroke="#333" stroke-width="0.8" />
<text x="332.79" y="377.60" font-size="6.4" text-anchor="middle" fill="#1a1a1a"  stroke="#1a1a1a" stroke-width="0.176">8</text>
<line x1="346.56" y1="368.60" x2="346.56" y2="370.80" stroke="#333" stroke-width="0.8" />
<text x="346.56" y="377.60" font-size="6.4" text-anchor="middle" fill="#1a1a1a"  stroke="#1a1a1a" stroke-width="0.176">24</text>
<text x="291.30" y="387.30" font-size="6.6" text-anchor="middle" fill="#1a1a1a"  stroke="#1a1a1a" stroke-width="0.192">Time (hours)</text>
<text x="215.40" y="327.00" font-size="6.8" text-anchor="middle" fill="#1a1a1a" transform="rotate(-90 215.40 327.00)"  stroke="#1a1a1a" stroke-width="0.208">Log CFU/ml</text>
<line x1="303.50" y1="349.30" x2="314.00" y2="349.30" stroke="#111" stroke-width="1.0" />
<circle cx="308.80" cy="349.30" r="1.5" fill="#111" stroke="#111" stroke-width="0.8"/>
<text x="318.70" y="351.70" font-size="6.6" text-anchor="start" fill="#1a1a1a"  stroke="#1a1a1a" stroke-width="0.192">Q502</text>
<line x1="303.50" y1="360.90" x2="314.00" y2="360.90" stroke="#ff2a2a" stroke-width="1.0" />
<circle cx="308.80" cy="360.90" r="1.5" fill="#fff" stroke="#ff2a2a" stroke-width="0.95"/>
<text x="318.70" y="363.30" font-size="6.6" text-anchor="start" fill="#1a1a1a"  stroke="#1a1a1a" stroke-width="0.192">Q502+Q154</text>
<text x="2.90" y="432.30" font-size="12.3" text-anchor="start" fill="#000"  stroke="#000" stroke-width="0.100">G</text>
<polyline points="33.30,439.08 33.30,449.41 42.42,449.41 42.42,465.56 50.50,465.56 50.50,481.27 59.10,481.27 59.10,492.12 145.10,492.12" fill="none" stroke="#111" stroke-width="1.05" stroke-linejoin="miter" />
<polyline points="33.30,433.40 33.30,439.08 42.42,439.08 42.42,454.87 145.10,454.87" fill="none" stroke="#ff2a2a" stroke-width="1.2" stroke-linejoin="miter" />
<line x1="33.10" y1="433.10" x2="33.10" y2="508.50" stroke="#444" stroke-width="0.6" />
<line x1="31.20" y1="508.20" x2="33.10" y2="508.20" stroke="#444" stroke-width="0.6" />
<text x="0.00" y="0.00" font-size="6.0" text-anchor="end" fill="#1a1a1a" transform="translate(30.60 510.36) scale(0.92 1)"  stroke="#1a1a1a" stroke-width="0.144">0</text>
<line x1="31.20" y1="493.24" x2="33.10" y2="493.24" stroke="#444" stroke-width="0.6" />
<text x="0.00" y="0.00" font-size="6.0" text-anchor="end" fill="#1a1a1a" transform="translate(30.60 495.40) scale(0.92 1)"  stroke="#1a1a1a" stroke-width="0.144">20</text>
<line x1="31.20" y1="478.28" x2="33.10" y2="478.28" stroke="#444" stroke-width="0.6" />
<text x="0.00" y="0.00" font-size="6.0" text-anchor="end" fill="#1a1a1a" transform="translate(30.60 480.44) scale(0.92 1)"  stroke="#1a1a1a" stroke-width="0.144">40</text>
<line x1="31.20" y1="463.32" x2="33.10" y2="463.32" stroke="#444" stroke-width="0.6" />
<text x="0.00" y="0.00" font-size="6.0" text-anchor="end" fill="#1a1a1a" transform="translate(30.60 465.48) scale(0.92 1)"  stroke="#1a1a1a" stroke-width="0.144">60</text>
<line x1="31.20" y1="448.36" x2="33.10" y2="448.36" stroke="#444" stroke-width="0.6" />
<text x="0.00" y="0.00" font-size="6.0" text-anchor="end" fill="#1a1a1a" transform="translate(30.60 450.52) scale(0.92 1)"  stroke="#1a1a1a" stroke-width="0.144">80</text>
<line x1="31.20" y1="433.40" x2="33.10" y2="433.40" stroke="#444" stroke-width="0.6" />
<text x="0.00" y="0.00" font-size="6.0" text-anchor="end" fill="#1a1a1a" transform="translate(30.60 435.56) scale(0.92 1)"  stroke="#1a1a1a" stroke-width="0.144">100</text>
<line x1="32.80" y1="508.20" x2="145.40" y2="508.20" stroke="#444" stroke-width="0.6" />
<line x1="41.90" y1="508.20" x2="41.90" y2="510.10" stroke="#444" stroke-width="0.6" />
<text x="0.00" y="0.00" font-size="6.0" text-anchor="middle" fill="#1a1a1a" transform="translate(41.90 516.50) scale(0.92 1)"  stroke="#1a1a1a" stroke-width="0.144">2</text>
<line x1="59.10" y1="508.20" x2="59.10" y2="510.10" stroke="#444" stroke-width="0.6" />
<text x="0.00" y="0.00" font-size="6.0" text-anchor="middle" fill="#1a1a1a" transform="translate(59.10 516.50) scale(0.92 1)"  stroke="#1a1a1a" stroke-width="0.144">4</text>
<line x1="76.30" y1="508.20" x2="76.30" y2="510.10" stroke="#444" stroke-width="0.6" />
<text x="0.00" y="0.00" font-size="6.0" text-anchor="middle" fill="#1a1a1a" transform="translate(76.30 516.50) scale(0.92 1)"  stroke="#1a1a1a" stroke-width="0.144">6</text>
<line x1="93.50" y1="508.20" x2="93.50" y2="510.10" stroke="#444" stroke-width="0.6" />
<text x="0.00" y="0.00" font-size="6.0" text-anchor="middle" fill="#1a1a1a" transform="translate(93.50 516.50) scale(0.92 1)"  stroke="#1a1a1a" stroke-width="0.144">8</text>
<line x1="110.70" y1="508.20" x2="110.70" y2="510.10" stroke="#444" stroke-width="0.6" />
<text x="0.00" y="0.00" font-size="6.0" text-anchor="middle" fill="#1a1a1a" transform="translate(110.70 516.50) scale(0.92 1)"  stroke="#1a1a1a" stroke-width="0.144">10</text>
<line x1="127.90" y1="508.20" x2="127.90" y2="510.10" stroke="#444" stroke-width="0.6" />
<text x="0.00" y="0.00" font-size="6.0" text-anchor="middle" fill="#1a1a1a" transform="translate(127.90 516.50) scale(0.92 1)"  stroke="#1a1a1a" stroke-width="0.144">12</text>
<line x1="145.10" y1="508.20" x2="145.10" y2="510.10" stroke="#444" stroke-width="0.6" />
<text x="0.00" y="0.00" font-size="6.0" text-anchor="middle" fill="#1a1a1a" transform="translate(145.10 516.50) scale(0.92 1)"  stroke="#1a1a1a" stroke-width="0.144">14</text>
<text x="0.00" y="0.00" font-size="6.5" text-anchor="middle" fill="#1a1a1a" transform="translate(89.70 524.50) scale(0.92 1)"  stroke="#1a1a1a" stroke-width="0.184">Time (days)</text>
<text x="0.00" y="0.00" font-size="6.5" text-anchor="middle" fill="#1a1a1a" transform="translate(18.40 470.00) rotate(-90) scale(0.92 1)"  stroke="#1a1a1a" stroke-width="0.184">Probability of Survival</text>
<text x="0.00" y="0.00" font-size="6.4" text-anchor="end" fill="#1a1a1a" transform="translate(142.80 452.40) scale(0.92 1)"  stroke="#1a1a1a" stroke-width="0.176">p=0.002</text>
<line x1="99.50" y1="468.00" x2="107.80" y2="468.00" stroke="#ff2a2a" stroke-width="1.15" />
<text x="0.00" y="0.00" font-size="6.4" text-anchor="start" fill="#1a1a1a" transform="translate(112.30 470.30) scale(0.92 1)"  stroke="#1a1a1a" stroke-width="0.176">Q154/Q502</text>
<line x1="99.50" y1="478.20" x2="107.80" y2="478.20" stroke="#111" stroke-width="1.15" />
<text x="0.00" y="0.00" font-size="6.4" text-anchor="start" fill="#1a1a1a" transform="translate(112.30 480.60) scale(0.92 1)"  stroke="#1a1a1a" stroke-width="0.176">PBS/Q502</text>
<text x="203.40" y="431.30" font-size="11.6" text-anchor="start" fill="#000" font-weight="bold"  stroke="#000" stroke-width="0.000">H</text>
<rect x="238.40" y="462.40" width="23.30" height="48.90" fill="#d9d9d9" stroke="#666" stroke-width="0.95"/>
<rect x="273.30" y="479.90" width="23.80" height="31.40" fill="#d9d9d9" stroke="#666" stroke-width="0.95"/>
<rect x="308.50" y="483.50" width="23.20" height="27.80" fill="#d9d9d9" stroke="#666" stroke-width="0.95"/>
<rect x="343.60" y="491.30" width="23.50" height="20.00" fill="#d9d9d9" stroke="#666" stroke-width="0.95"/>
<line x1="250.20" y1="459.00" x2="250.20" y2="465.10" stroke="#444" stroke-width="0.7" />
<line x1="243.70" y1="459.00" x2="256.70" y2="459.00" stroke="#444" stroke-width="0.7" />
<line x1="243.70" y1="465.10" x2="256.70" y2="465.10" stroke="#444" stroke-width="0.7" />
<line x1="284.90" y1="476.60" x2="284.90" y2="481.20" stroke="#444" stroke-width="0.7" />
<line x1="279.40" y1="476.60" x2="290.40" y2="476.60" stroke="#444" stroke-width="0.7" />
<line x1="279.40" y1="481.20" x2="290.40" y2="481.20" stroke="#444" stroke-width="0.7" />
<line x1="320.10" y1="480.80" x2="320.10" y2="486.30" stroke="#444" stroke-width="0.7" />
<line x1="315.10" y1="480.80" x2="325.10" y2="480.80" stroke="#444" stroke-width="0.7" />
<line x1="315.10" y1="486.30" x2="325.10" y2="486.30" stroke="#444" stroke-width="0.7" />
<line x1="355.30" y1="488.00" x2="355.30" y2="494.90" stroke="#444" stroke-width="0.7" />
<line x1="349.80" y1="488.00" x2="360.80" y2="488.00" stroke="#444" stroke-width="0.7" />
<line x1="349.80" y1="494.90" x2="360.80" y2="494.90" stroke="#444" stroke-width="0.7" />
<circle cx="250.20" cy="444.90" r="1.35" fill="none" stroke="#1a1a1a" stroke-width="0.75"/>
<circle cx="244.60" cy="455.20" r="1.35" fill="none" stroke="#1a1a1a" stroke-width="0.75"/>
<circle cx="250.20" cy="453.10" r="1.35" fill="none" stroke="#1a1a1a" stroke-width="0.75"/>
<circle cx="255.60" cy="453.10" r="1.35" fill="none" stroke="#1a1a1a" stroke-width="0.75"/>
<circle cx="244.60" cy="460.40" r="1.35" fill="none" stroke="#1a1a1a" stroke-width="0.75"/>
<circle cx="255.60" cy="461.40" r="1.35" fill="none" stroke="#1a1a1a" stroke-width="0.75"/>
<circle cx="250.20" cy="464.10" r="1.35" fill="none" stroke="#1a1a1a" stroke-width="0.75"/>
<circle cx="247.60" cy="468.00" r="1.35" fill="none" stroke="#1a1a1a" stroke-width="0.75"/>
<circle cx="252.80" cy="467.60" r="1.35" fill="none" stroke="#1a1a1a" stroke-width="0.75"/>
<circle cx="250.20" cy="470.50" r="1.35" fill="none" stroke="#1a1a1a" stroke-width="0.75"/>
<circle cx="250.20" cy="473.20" r="1.35" fill="none" stroke="#1a1a1a" stroke-width="0.75"/>
<circle cx="244.60" cy="474.80" r="1.35" fill="none" stroke="#1a1a1a" stroke-width="0.75"/>
<circle cx="256.00" cy="474.20" r="1.35" fill="none" stroke="#1a1a1a" stroke-width="0.75"/>
<circle cx="284.90" cy="458.90" r="1.35" fill="none" stroke="#1a1a1a" stroke-width="0.75"/>
<circle cx="284.90" cy="462.10" r="1.35" fill="none" stroke="#1a1a1a" stroke-width="0.75"/>
<circle cx="284.90" cy="467.60" r="1.35" fill="none" stroke="#1a1a1a" stroke-width="0.75"/>
<circle cx="284.90" cy="470.90" r="1.35" fill="none" stroke="#1a1a1a" stroke-width="0.75"/>
<circle cx="284.90" cy="477.10" r="1.35" fill="none" stroke="#1a1a1a" stroke-width="0.75"/>
<circle cx="275.60" cy="483.10" r="1.35" fill="none" stroke="#1a1a1a" stroke-width="0.75"/>
<circle cx="279.80" cy="482.30" r="1.35" fill="none" stroke="#1a1a1a" stroke-width="0.75"/>
<circle cx="284.90" cy="484.00" r="1.35" fill="none" stroke="#1a1a1a" stroke-width="0.75"/>
<circle cx="290.10" cy="482.70" r="1.35" fill="none" stroke="#1a1a1a" stroke-width="0.75"/>
<circle cx="295.20" cy="482.70" r="1.35" fill="none" stroke="#1a1a1a" stroke-width="0.75"/>
<circle cx="282.40" cy="493.00" r="1.35" fill="none" stroke="#1a1a1a" stroke-width="0.75"/>
<circle cx="287.60" cy="493.00" r="1.35" fill="none" stroke="#1a1a1a" stroke-width="0.75"/>
<circle cx="284.90" cy="496.80" r="1.35" fill="none" stroke="#1a1a1a" stroke-width="0.75"/>
<circle cx="317.30" cy="475.50" r="1.35" fill="none" stroke="#1a1a1a" stroke-width="0.75"/>
<circle cx="323.40" cy="477.40" r="1.35" fill="none" stroke="#1a1a1a" stroke-width="0.75"/>
<circle cx="315.10" cy="482.10" r="1.35" fill="none" stroke="#1a1a1a" stroke-width="0.75"/>
<circle cx="324.80" cy="482.10" r="1.35" fill="none" stroke="#1a1a1a" stroke-width="0.75"/>
<circle cx="320.10" cy="484.90" r="1.35" fill="none" stroke="#1a1a1a" stroke-width="0.75"/>
<circle cx="320.10" cy="497.30" r="1.35" fill="none" stroke="#1a1a1a" stroke-width="0.75"/>
<circle cx="351.90" cy="484.40" r="1.35" fill="none" stroke="#1a1a1a" stroke-width="0.75"/>
<circle cx="358.00" cy="484.40" r="1.35" fill="none" stroke="#1a1a1a" stroke-width="0.75"/>
<circle cx="349.10" cy="488.00" r="1.35" fill="none" stroke="#1a1a1a" stroke-width="0.75"/>
<circle cx="360.20" cy="488.00" r="1.35" fill="none" stroke="#1a1a1a" stroke-width="0.75"/>
<circle cx="354.60" cy="490.40" r="1.35" fill="none" stroke="#1a1a1a" stroke-width="0.75"/>
<circle cx="354.60" cy="510.60" r="1.35" fill="none" stroke="#1a1a1a" stroke-width="0.75"/>
<line x1="227.10" y1="441.35" x2="227.10" y2="511.85" stroke="#333" stroke-width="0.7" />
<line x1="224.90" y1="511.50" x2="227.10" y2="511.50" stroke="#333" stroke-width="0.7" />
<text x="223.90" y="513.44" font-size="5.4" text-anchor="end" fill="#1a1a1a"  stroke="#1a1a1a" stroke-width="0.096">0</text>
<line x1="224.90" y1="497.54" x2="227.10" y2="497.54" stroke="#333" stroke-width="0.7" />
<text x="223.90" y="499.48" font-size="5.4" text-anchor="end" fill="#1a1a1a"  stroke="#1a1a1a" stroke-width="0.096">2</text>
<line x1="224.90" y1="483.58" x2="227.10" y2="483.58" stroke="#333" stroke-width="0.7" />
<text x="223.90" y="485.52" font-size="5.4" text-anchor="end" fill="#1a1a1a"  stroke="#1a1a1a" stroke-width="0.096">4</text>
<line x1="224.90" y1="469.62" x2="227.10" y2="469.62" stroke="#333" stroke-width="0.7" />
<text x="223.90" y="471.56" font-size="5.4" text-anchor="end" fill="#1a1a1a"  stroke="#1a1a1a" stroke-width="0.096">6</text>
<line x1="224.90" y1="455.66" x2="227.10" y2="455.66" stroke="#333" stroke-width="0.7" />
<text x="223.90" y="457.60" font-size="5.4" text-anchor="end" fill="#1a1a1a"  stroke="#1a1a1a" stroke-width="0.096">8</text>
<line x1="224.90" y1="441.70" x2="227.10" y2="441.70" stroke="#333" stroke-width="0.7" />
<text x="223.90" y="443.64" font-size="5.4" text-anchor="end" fill="#1a1a1a"  stroke="#1a1a1a" stroke-width="0.096">10</text>
<line x1="226.75" y1="511.30" x2="378.45" y2="511.30" stroke="#333" stroke-width="0.7" />
<line x1="250.10" y1="511.30" x2="250.10" y2="513.50" stroke="#333" stroke-width="0.7" />
<text x="250.10" y="519.30" font-size="5.6" text-anchor="middle" fill="#1a1a1a"  stroke="#1a1a1a" stroke-width="0.112">1</text>
<line x1="285.20" y1="511.30" x2="285.20" y2="513.50" stroke="#333" stroke-width="0.7" />
<text x="285.20" y="519.30" font-size="5.6" text-anchor="middle" fill="#1a1a1a"  stroke="#1a1a1a" stroke-width="0.112">1</text>
<line x1="320.10" y1="511.30" x2="320.10" y2="513.50" stroke="#333" stroke-width="0.7" />
<text x="320.10" y="519.30" font-size="5.6" text-anchor="middle" fill="#1a1a1a"  stroke="#1a1a1a" stroke-width="0.112">2</text>
<line x1="355.30" y1="511.30" x2="355.30" y2="513.50" stroke="#333" stroke-width="0.7" />
<text x="355.30" y="519.30" font-size="5.6" text-anchor="middle" fill="#1a1a1a"  stroke="#1a1a1a" stroke-width="0.112">14</text>
<polyline points="285.20,520.30 285.20,524.40 355.00,524.40 355.00,520.30" fill="none" stroke="#333" stroke-width="0.7" stroke-linejoin="miter" />
<text x="322.90" y="532.30" font-size="5.6" text-anchor="middle" fill="#1a1a1a" font-style="italic"  stroke="#1a1a1a" stroke-width="0.112">S. aureus</text>
<text x="250.10" y="531.60" font-size="5.6" text-anchor="middle" fill="#1a1a1a"  stroke="#1a1a1a" stroke-width="0.112">PBS</text>
<text x="296.90" y="544.00" font-size="5.8" text-anchor="middle" fill="#1a1a1a"  stroke="#1a1a1a" stroke-width="0.128">Days post Pa infection</text>
<text x="214.00" y="476.80" font-size="5.8" text-anchor="middle" fill="#1a1a1a" transform="rotate(-90 214.00 476.80)"  stroke="#1a1a1a" stroke-width="0.128">log CFU/ Lung</text>
<polyline points="250.20,440.20 250.20,437.30 284.90,437.30 284.90,454.60" fill="none" stroke="#333" stroke-width="0.7" stroke-linejoin="miter" />
<text x="269.20" y="435.20" font-size="6.5" text-anchor="middle" fill="#1a1a1a" font-weight="bold" letter-spacing="0.8" stroke="#1a1a1a" stroke-width="0.184">**</text>
</svg>
</body></html>
